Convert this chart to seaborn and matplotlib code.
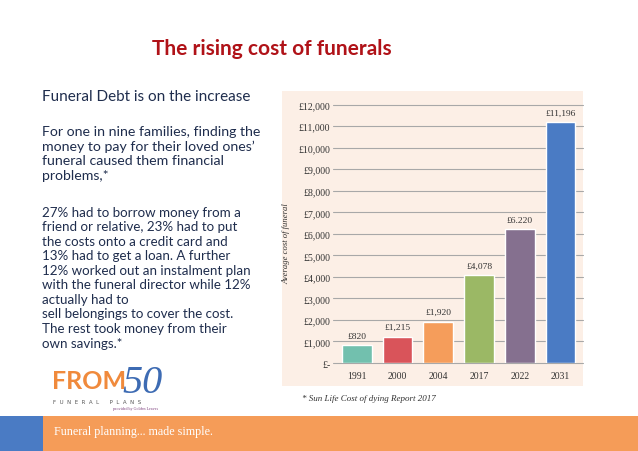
import matplotlib
matplotlib.use("Agg")
import matplotlib.pyplot as plt
import seaborn as sns
import pandas as pd
from matplotlib.patches import Rectangle

years = ["1991", "2000", "2004", "2017", "2022", "2031"]
costs = [820, 1215, 1920, 4078, 6220, 11196]
cost_labels = ["£820", "£1,215", "£1,920", "£4,078", "£6.220", "£11,196"]
bar_colors = ["#72c0ae", "#d9545a", "#f59d5b", "#9bb865", "#85708f", "#4a7bc4"]
ytick_vals = [0, 1000, 2000, 3000, 4000, 5000, 6000, 7000, 8000, 9000, 10000, 11000, 12000]
ytick_labels = ["£-", "£1,000", "£2,000", "£3,000", "£4,000", "£5,000", "£6,000",
                "£7,000", "£8,000", "£9,000", "£10,000", "£11,000", "£12,000"]

title = "The rising cost of funerals"
para1 = "Funeral Debt is on the increase"
para2 = ["For one in nine families, finding the",
         "money to pay for their loved ones\u2019",
         "funeral caused them financial",
         "problems,*"]
para3 = ["27% had to borrow money from a",
         "friend or relative, 23% had to put",
         "the costs onto a credit card and",
         "13% had to get a loan. A further",
         "12% worked out an instalment plan",
         "with the funeral director while 12%",
         "actually had to",
         "sell belongings to cover the cost.",
         "The rest took money from their",
         "own savings.*"]
footnote = "* Sun Life Cost of dying Report 2017"
footer = "Funeral planning... made simple."

df = pd.DataFrame({"year": years, "cost": costs})

sns.set_style("white")
W, H = 638, 452
fig = plt.figure(figsize=(W / 100, H / 100), dpi=100)
fig.patch.set_facecolor("white")

def fx(x):
    return x / W

def fy(y):
    return 1 - y / H

# chart panel background
fig.patches.append(Rectangle((fx(282), fy(387)), fx(583) - fx(282), fy(92) - fy(387),
                             transform=fig.transFigure, facecolor="#fcefe6",
                             edgecolor="none", zorder=-5))

# footer bands
fig.patches.append(Rectangle((0, 0), fx(43), fy(417), transform=fig.transFigure,
                             facecolor="#4a7bc4", edgecolor="none", zorder=-5))
fig.patches.append(Rectangle((fx(43), 0), 1 - fx(43), fy(417), transform=fig.transFigure,
                             facecolor="#f59c58", edgecolor="none", zorder=-5))

ax = fig.add_axes([fx(333), fy(364), fx(583) - fx(333), fy(105.7) - fy(364)])
ax.set_zorder(5)
ax.set_facecolor("none")
sns.barplot(data=df, x="year", y="cost", hue="year", palette=bar_colors,
            legend=False, width=0.73, saturation=1, ax=ax, zorder=3)
ax.set_ylim(0, 12000)
ax.set_xlim(-0.58, 5.55)
ax.set_yticks(ytick_vals)
ax.set_yticklabels(ytick_labels, family="Liberation Serif", fontsize=7, color="#333333")
ax.set_xticks(range(len(years)))
ax.set_xticklabels(years, family="Liberation Serif", fontsize=7, color="#333333")
ax.tick_params(axis="y", length=0, pad=2)
ax.tick_params(axis="x", length=0, pad=6)
for v in ytick_vals:
    ax.axhline(v, color="#a8a8a8", lw=0.8, zorder=1, clip_on=False)
for s in ax.spines.values():
    s.set_visible(False)
ax.set_xlabel("")
ax.set_ylabel("Average cost of funeral", family="Liberation Serif", style="italic",
              fontsize=6.2, color="#333333")
ax.yaxis.set_label_coords(-0.172, 0.465)
for i, (v, lab) in enumerate(zip(costs, cost_labels)):
    ax.annotate(lab, (i, v), xytext=(0, 4), textcoords="offset points", ha="center",
                va="bottom", family="Liberation Serif", fontsize=6.8, color="#333333")

# title
fig.text(fx(272), fy(49), title, ha="center", va="center", family="Lato",
         fontweight="bold", fontsize=15, color="#b01218")

navy = "#1f2d4d"
fig.text(fx(42), fy(97), para1, ha="left", va="center", family="Lato",
         fontsize=11, color=navy)
for i, line in enumerate(para2):
    fig.text(fx(42), fy(132 + 14.6 * i), line, ha="left", va="center", family="Lato",
             fontsize=10.2, color=navy)
for i, line in enumerate(para3):
    fig.text(fx(42), fy(213 + 14.5 * i), line, ha="left", va="center", family="Lato",
             fontsize=9.6, color=navy)

# logo
fig.text(fx(52), fy(382), "FROM", ha="left", va="center", family="Lato",
         fontweight="bold", fontsize=18, color="#f08a3c")
fig.text(fx(122), fy(384), "50", ha="left", va="center", family="Liberation Serif",
         style="italic", fontsize=29, color="#3d6bb3")
fig.text(fx(53), fy(403), "F  U  N  E  R  A  L      P  L  A  N  S", ha="left", va="center",
         family="DejaVu Sans", fontsize=4, color="#555555")
fig.text(fx(113), fy(409), "provided by Golden Leaves", ha="left", va="center",
         family="Liberation Serif", fontsize=3, color="#7a3b7a")

# footnote and footer
fig.text(fx(302), fy(399), footnote, ha="left", va="center", family="Liberation Serif",
         style="italic", fontsize=6.5, color="#333333")
fig.text(fx(54), fy(432), footer, ha="left", va="center", family="Liberation Serif",
         fontsize=8.7, color="white")

fig.savefig("out.png", dpi=100)
